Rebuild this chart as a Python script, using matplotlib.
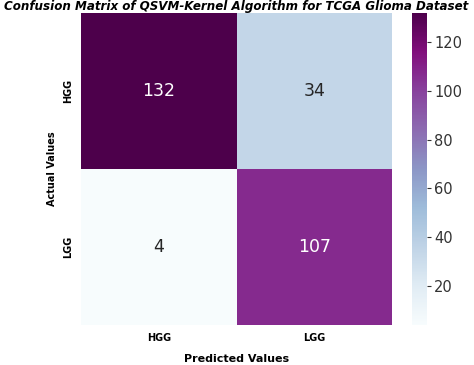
import matplotlib
matplotlib.use('Agg')
import matplotlib.pyplot as plt
import seaborn as sns
import numpy as np

labels = ['HGG', 'LGG']
cm = np.array([[132, 34],
               [4, 107]])

fig = plt.figure(figsize=(4.74, 3.65), dpi=100)
ax = fig.add_axes([0.171, 0.11, 0.656, 0.855])
cax = fig.add_axes([0.869, 0.11, 0.032, 0.855])

sns.heatmap(cm, annot=True, fmt='d', cmap='BuPu', ax=ax, cbar_ax=cax,
            xticklabels=labels, yticklabels=labels,
            annot_kws={'size': 12.5})

ax.set_title('Confusion Matrix of QSVM-Kernel Algorithm for TCGA Glioma Dataset',
             fontsize=8.6, fontweight='bold', fontstyle='italic', pad=1.5)
ax.set_xlabel('Predicted Values', fontsize=8, fontweight='bold', labelpad=8)
ax.set_ylabel('Actual Values', fontsize=7, fontweight='bold', labelpad=4)
ax.tick_params(length=0, pad=6)
for t in ax.get_xticklabels() + ax.get_yticklabels():
    t.set_fontsize(7)
    t.set_fontweight('bold')
cax.tick_params(labelsize=10.5, length=3, pad=2, colors='#333333')
cax.set_yticks([20, 40, 60, 80, 100, 120])

fig.savefig('out.png', dpi=100)
